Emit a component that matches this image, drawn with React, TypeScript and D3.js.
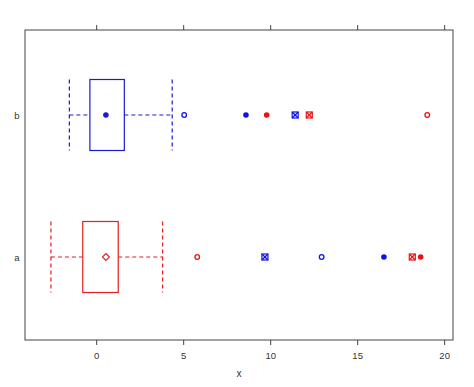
import React from "react";
import * as d3 from "d3";

const groups = ["a", "b"];
const colors = ["#e02020", "#1a1ad8"];
const boxLow = [-0.8, -0.39];
const boxHigh = [1.24, 1.59];
const medians = [0.53, 0.53];
const whiskLow = [-2.63, -1.57];
const whiskHigh = [3.79, 4.34];
const xTicks = [0, 5, 10, 15, 20];

// outliers: group, value, color index, shape
const outGroup = ["b", "b", "b", "b", "b", "b", "a", "a", "a", "a", "a", "a"];
const outValue = [5.03, 8.58, 9.77, 11.41, 12.22, 19.0, 5.78, 9.67, 12.93, 16.51, 18.14, 18.62];
const outColor = [1, 1, 0, 1, 0, 0, 0, 1, 1, 1, 0, 0];
const outShape = ["open", "dot", "dot", "sqx", "sqx", "open", "open", "sqx", "open", "dot", "sqx", "dot"];

export default function App() {
  const W = 474, H = 387;
  const left = 25, right = 453, top = 30, bottom = 340;
  const x = d3.scaleLinear().domain([-4.12, 20.48]).range([left, right]);
  const y = d3.scalePoint().domain(groups).range([257, 115]);
  const boxH = 71;
  const frame = "#444";
  const font = "'Liberation Sans', Arial, sans-serif";

  const marker = (shape: string, cx: number, cy: number, col: string, k: number) => {
    if (shape === "dot") return <circle key={k} cx={cx} cy={cy} r={2.8} fill={col} />;
    if (shape === "open") return <circle key={k} cx={cx} cy={cy} r={2.3} fill="none" stroke={col} strokeWidth={1.3} />;
    const s = 3;
    return (
      <g key={k} stroke={col} strokeWidth={1.2} fill="none">
        <rect x={cx - s} y={cy - s} width={2 * s} height={2 * s} />
        <line x1={cx - s} y1={cy - s} x2={cx + s} y2={cy + s} />
        <line x1={cx - s} y1={cy + s} x2={cx + s} y2={cy - s} />
      </g>
    );
  };

  return (
    <svg width={W} height={H} style={{ position: "absolute", left: 0, top: 0, background: "#fff" }}>
      <rect x={left} y={top} width={right - left} height={bottom - top} fill="none" stroke={frame} strokeWidth={1} />
      {xTicks.map((t) => (
        <g key={t}>
          <line x1={x(t)} x2={x(t)} y1={top - 5} y2={top} stroke={frame} />
          <line x1={x(t)} x2={x(t)} y1={bottom} y2={bottom + 5} stroke={frame} />
          <text x={x(t)} y={359} textAnchor="middle" fontSize={9.5} fontFamily={font} fill="#333">{t}</text>
        </g>
      ))}
      <text x={(left + right) / 2} y={377} textAnchor="middle" fontSize={10} fontFamily={font} fill="#333">x</text>
      {groups.map((g, i) => {
        const cy = y(g)!;
        const col = colors[i];
        return (
          <g key={g}>
            <text x={17} y={cy + 3.5} textAnchor="middle" fontSize={9.5} fontFamily={font} fill="#333">{g}</text>
            <rect x={x(boxLow[i])} y={cy - boxH / 2} width={x(boxHigh[i]) - x(boxLow[i])} height={boxH} fill="none" stroke={col} strokeWidth={1.2} />
            <g stroke={col} strokeWidth={1.2} strokeDasharray="4,3">
              <line x1={x(whiskLow[i])} x2={x(boxLow[i])} y1={cy} y2={cy} />
              <line x1={x(boxHigh[i])} x2={x(whiskHigh[i])} y1={cy} y2={cy} />
              <line x1={x(whiskLow[i])} x2={x(whiskLow[i])} y1={cy - boxH / 2} y2={cy + boxH / 2} />
              <line x1={x(whiskHigh[i])} x2={x(whiskHigh[i])} y1={cy - boxH / 2} y2={cy + boxH / 2} />
            </g>
            {g === "b" ? (
              <circle cx={x(medians[i])} cy={cy} r={2.8} fill={col} />
            ) : (
              <path d={`M${x(medians[i])},${cy - 3.5}L${x(medians[i]) + 3.5},${cy}L${x(medians[i])},${cy + 3.5}L${x(medians[i]) - 3.5},${cy}Z`} fill="none" stroke={col} strokeWidth={1.1} />
            )}
          </g>
        );
      })}
      {outValue.map((v, k) => marker(outShape[k], x(v), y(outGroup[k])!, outColor[k] === 0 ? "#ee1111" : "#1111ee", k))}
    </svg>
  );
}
